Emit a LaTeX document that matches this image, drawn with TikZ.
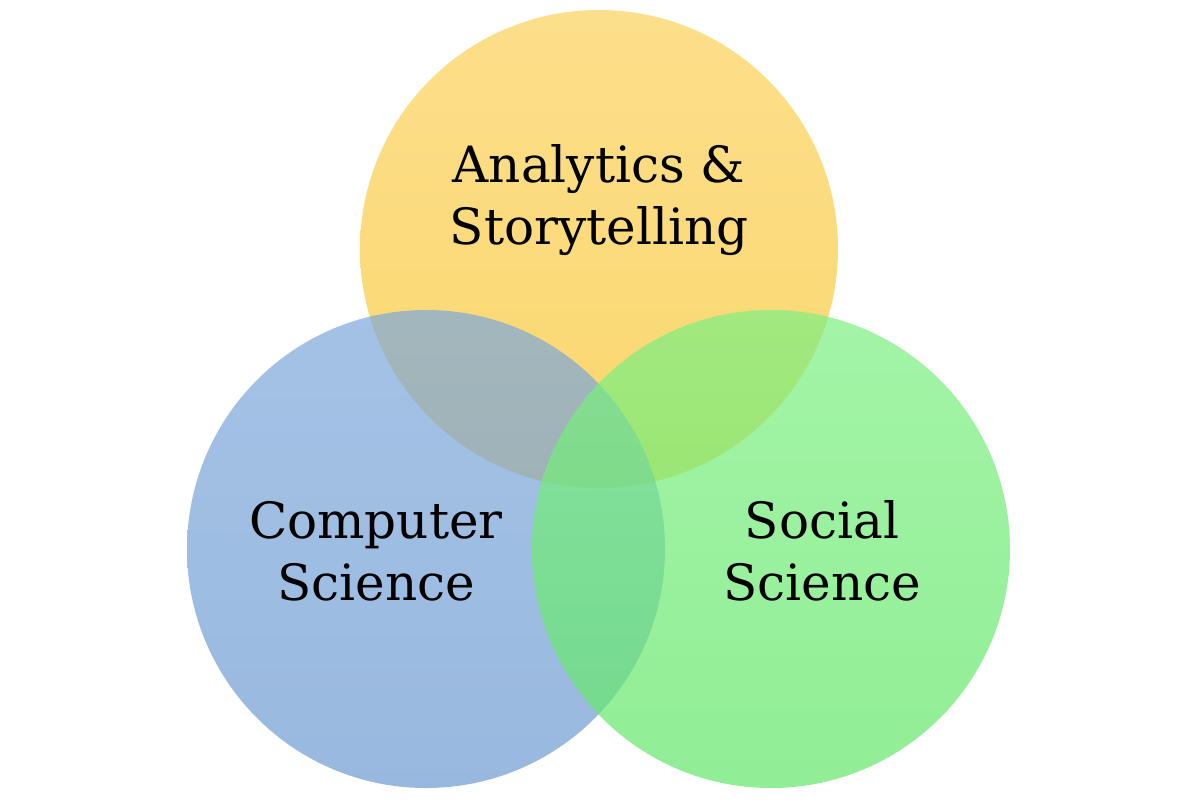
\documentclass[tikz,border=0pt]{standalone}
\usepackage{fontspec}
\setmainfont{DejaVu Serif}
\begin{document}
\begin{tikzpicture}[x=1pt,y=-1pt,
  venn/.style={circle,minimum size=478pt,inner sep=0pt,fill opacity=0.7,text opacity=1},
  lbl/.style={font=\fontsize{50}{62}\selectfont,align=center}]
\useasboundingbox[fill=white] (0,0) rectangle (1200,801);
\definecolor{cy}{RGB}{248,198,48}
\definecolor{cyt}{RGB}{252,210,90}
\definecolor{cb}{RGB}{126,169,219}
\definecolor{cbb}{RGB}{110,155,210}
\definecolor{cg}{RGB}{98,231,105}
\definecolor{cgt}{RGB}{125,240,130}
\node[venn,top color=cyt,bottom color=cy] (top) at (599,249) {};
\node[venn,top color=cb,bottom color=cbb] (left) at (426,549) {};
\node[venn,top color=cgt,bottom color=cg] (right) at (771,549) {};
\node[lbl] (ta) at (599,200) {Analytics \&\\Storytelling};
\node[lbl] (tl) at (376,551) {Computer\\Science};
\node[lbl] (tr) at (822,551) {Social\\Science};
\end{tikzpicture}
\end{document}
